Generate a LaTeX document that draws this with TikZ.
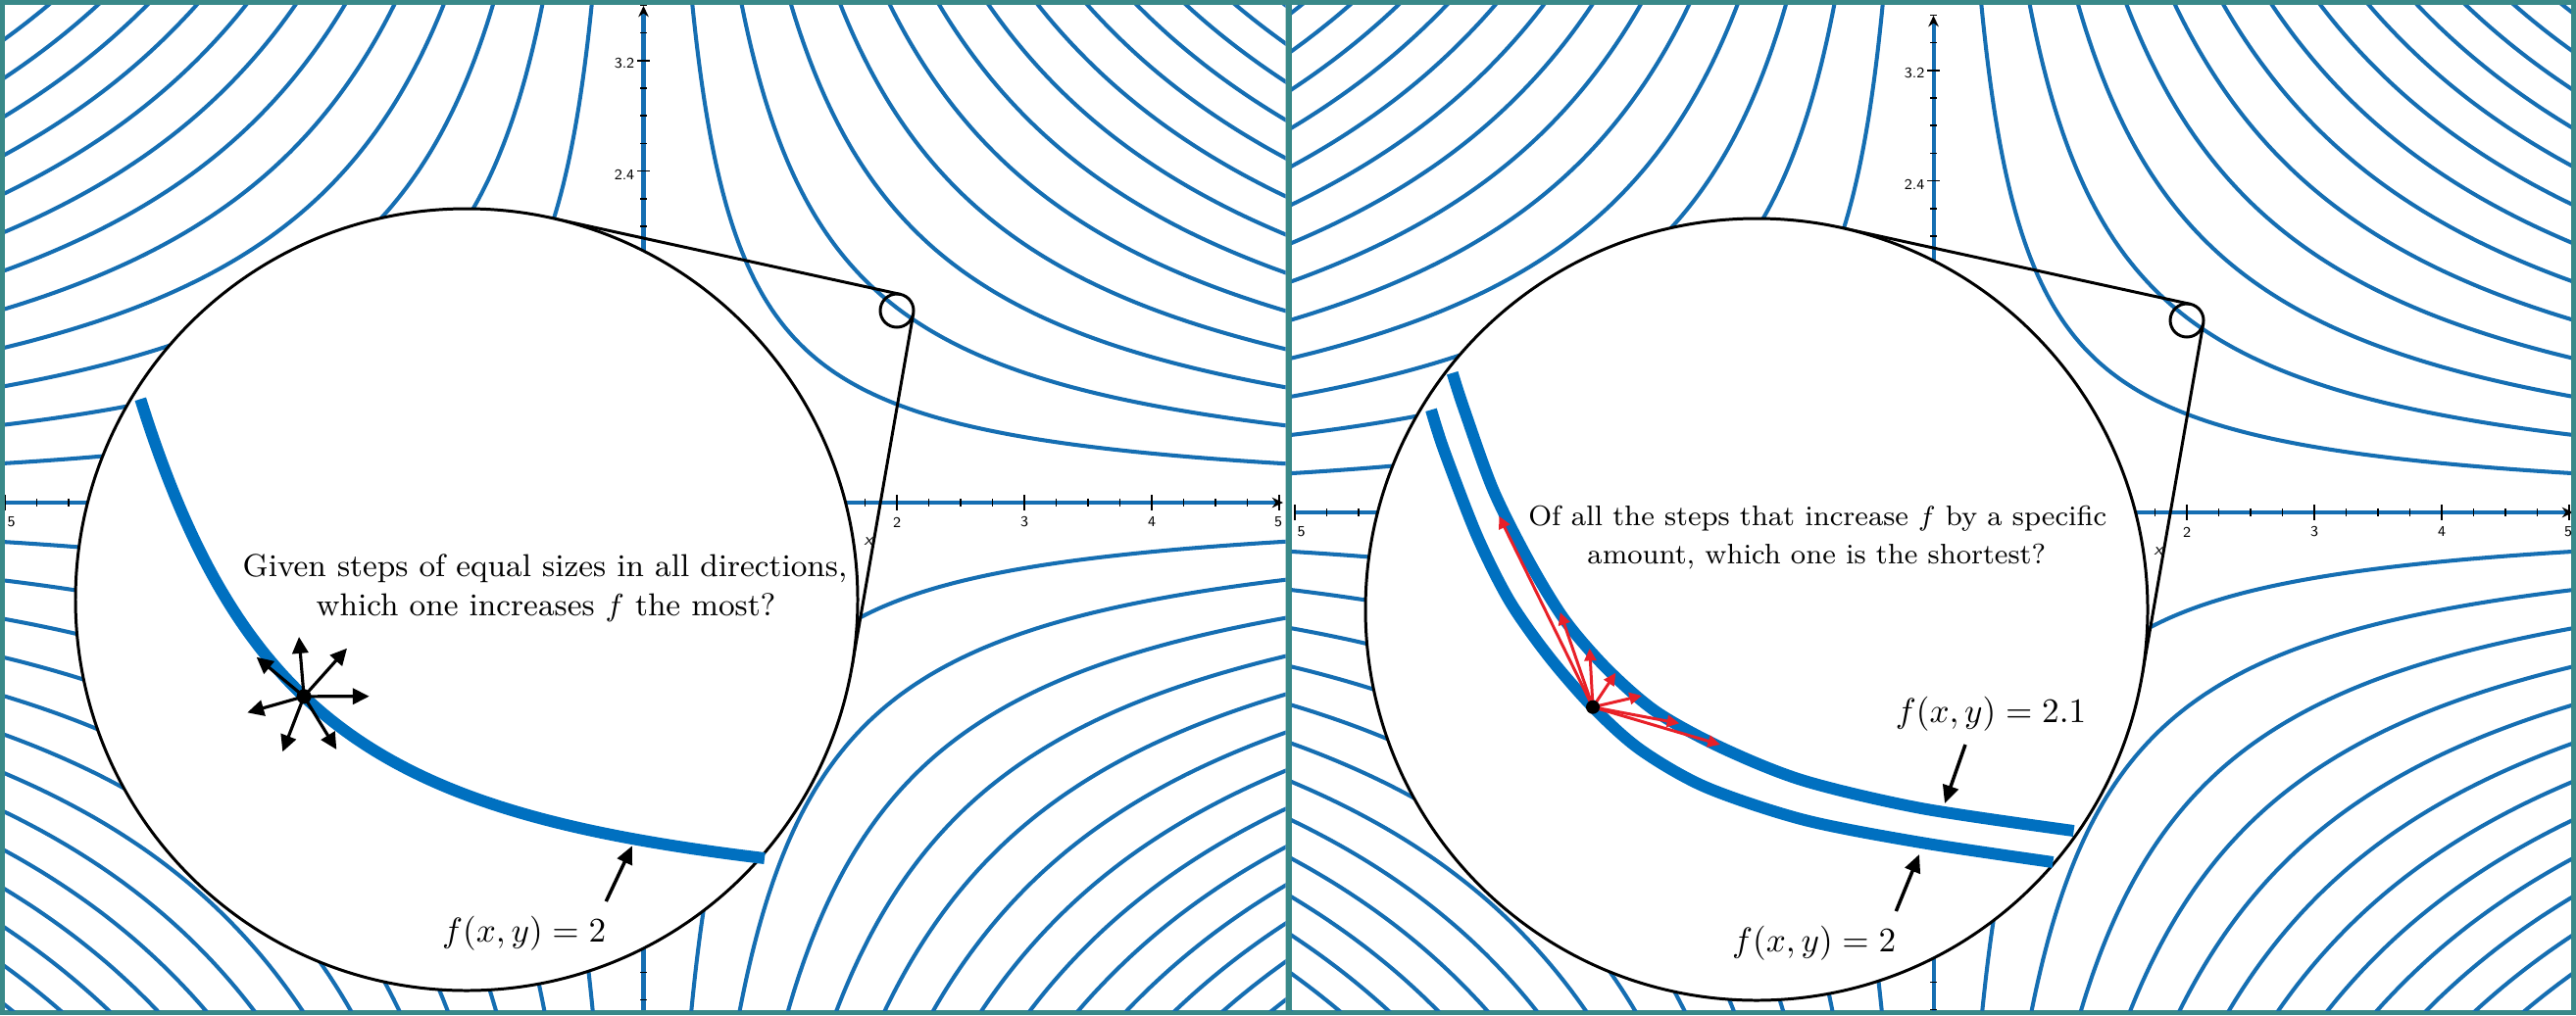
\documentclass[tikz,border=0pt]{standalone}
\usetikzlibrary{arrows.meta,calc}
\definecolor{frameteal}{RGB}{57,137,137}
\definecolor{plotblue}{RGB}{21,110,178}
\definecolor{curveblue}{RGB}{0,112,192}
\definecolor{stepred}{RGB}{232,32,40}

\tikzset{
  bgcurve/.style={plotblue, line width=1.15pt},
  axisline/.style={plotblue, line width=1.15pt},
  tickline/.style={black, line width=0.45pt},
  ticklabel/.style={font=\sffamily\fontsize{4.3}{5}\selectfont, inner sep=0pt},
  zoomline/.style={black, line width=0.85pt},
  thickcurve/.style={curveblue, line width=3.4pt},
  steparrow/.style={black, line width=0.9pt, -{Triangle[length=4.8pt,width=4.6pt]}},
  redstep/.style={stepred, line width=0.85pt, -{Triangle[length=3.6pt,width=3.4pt]}},
  labelarrow/.style={black, line width=1pt, -{Triangle[length=5.2pt,width=4.6pt]}},
  maintext/.style={inner sep=0pt, anchor=base},
  labeltext/.style={inner sep=0pt, anchor=base, font=\fontsize{10}{12}\selectfont},
}

% background contour plot, in panel-local pixel coordinates
\newcommand{\mybackground}[1]{%
  \begin{scope}[shift={(655,513)},x=1cm,y=1cm]
    \foreach \k in {1,...,13}{%
      \pgfmathsetmacro\hypc{2.556*\k+0.05}%
      \pgfmathsetmacro\hyps{sqrt(\hypc)}%
      \pgfmathsetmacro\hypT{ln(6.8/\hyps)}%
      \foreach \sx/\sy in {1/1,-1/1,-1/-1,1/-1}{%
        \draw[bgcurve] plot[domain=-\hypT:\hypT,samples=40,smooth,variable=\t]
          ({\sx*\hyps*exp(\t)},{\sy*\hyps*exp(-\t)});
      }%
    }%
  \end{scope}
  % axes
  \draw[axisline, -{Stealth[color=black,length=3.2pt,width=3pt]}] (5,513) -- (1309,513);
  \draw[axisline, -{Stealth[color=black,length=3.2pt,width=3pt]}] (656.5,1031) -- (656.5,6);
  \foreach \n in {-20,...,20}{\draw[tickline] ({655+32.5*\n},509) -- ({655+32.5*\n},517);}
  \foreach \n in {-5,...,5}{\draw[tickline] ({655+130*\n},505) -- ({655+130*\n},521);}
  \foreach \n in {-18,...,18}{\draw[tickline] (653,{513-28.2*\n}) -- (660,{513-28.2*\n});}
  \foreach \n in {-4,...,4}{\draw[tickline] (650,{513-112.8*\n}) -- (663,{513-112.8*\n});}
  \node[ticklabel] (#1-y32) at (637,65) {3.2};
  \node[ticklabel] (#1-y24) at (637,178) {2.4};
  \node[ticklabel] (#1-xm5) at (11.7,533) {5};
  \node[ticklabel] (#1-x2) at (915,533) {2};
  \node[ticklabel] (#1-x3) at (1045,533) {3};
  \node[ticklabel] (#1-x4) at (1175,533) {4};
  \node[ticklabel] (#1-x5) at (1304,533) {5};
  \node[ticklabel, font=\sffamily\itshape\fontsize{5}{6}\selectfont] (#1-xname) at (886,553) {x};
}

% magnifier: small circle, tangent lines, big white circle
\newcommand{\zoomframe}[1]{%
  \coordinate (#1-big) at (476,612);
  \coordinate (#1-small) at (915,317);
  \coordinate (#1-t1b) at ($(476,612)+(-77.66:399)$);
  \coordinate (#1-t1s) at ($(915,317)+(-77.66:17)$);
  \coordinate (#1-t2b) at ($(476,612)+(9.86:399)$);
  \coordinate (#1-t2s) at ($(915,317)+(9.86:17)$);
  \draw[zoomline] (#1-t1b) -- (#1-t1s);
  \draw[zoomline] (#1-t2b) -- (#1-t2s);
  \draw[zoomline] (#1-small) circle[radius=17];
  \filldraw[zoomline, fill=white] (#1-big) circle[radius=399];
}

\begin{document}
\begin{tikzpicture}[x=0.01cm,y=-0.01cm]
\useasboundingbox (0,0) rectangle (2628,1036);
\fill[frameteal] (0,0) rectangle (2628,1036);

% ---------------- left panel ----------------
\begin{scope}
  \clip (5,5) rectangle (1311.5,1031);
  \fill[white] (5,5) rectangle (1311.5,1031);
  \mybackground{L}
  \zoomframe{L}
  \draw[thickcurve] (143.3,407.3) .. controls (248.3,743.3) and (400,830.4) .. (780,876)
    coordinate[pos=0.413] (Ldot);
  \coordinate (Ls1) at (305,650);
  \coordinate (Ls2) at (354,661.7);
  \coordinate (Ls3) at (376.7,710.7);
  \coordinate (Ls4) at (343.3,765);
  \coordinate (Ls5) at (288.3,767.3);
  \coordinate (Ls6) at (252.3,727.3);
  \coordinate (Ls7) at (261.7,670.7);
  \foreach \i in {1,...,7}{\draw[steparrow] (Ldot) -- (Ls\i);}
  \fill[black] (Ldot) circle[radius=7.5];
  \node[maintext, font=\fontsize{9.2}{11}\selectfont] (Lq1) at (556,588.3)
    {Given steps of equal sizes in all directions,};
  \node[maintext, font=\fontsize{9.2}{11}\selectfont] (Lq2) at (557,628.3)
    {which one increases $f$ the most?};
  \node[labeltext] (Llab) at (534.7,961.7) {$f(x,y)=2$};
  \coordinate (Llabtail) at (618.3,920);
  \coordinate (Llabtip) at (645,863.3);
  \draw[labelarrow] (Llabtail) -- (Llabtip);
\end{scope}

% ---------------- right panel ----------------
\begin{scope}
  \clip (1317.5,5) rectangle (2623,1031);
  \fill[white] (1317.5,5) rectangle (2623,1031);
  \begin{scope}[shift={(1316,10)}]
    \mybackground{R}
    \zoomframe{R}
    % level curve f = 2
    \draw[thickcurve] plot[smooth] coordinates {(144,408.3) (157.3,450) (190.7,536.7)
      (224,603.3) (264,660) (309,711.7) (357.3,755) (424,793.3) (524,826.7) (644,850) (778.4,870)};
    % level curve f = 2.1
    \draw[thickcurve] plot[smooth] coordinates {(165.7,370.7) (177.3,406.7) (207.3,490)
      (244,563.3) (280.7,623.3) (324,673.3) (374,716.7) (440.7,753.3) (524,786.7) (644,815) (799.6,838)};
    \coordinate (Rdot) at (309,711.7);
    \coordinate (Rs1) at (213.3,516.7);
    \coordinate (Rs2) at (275.7,615);
    \coordinate (Rs3) at (305.7,651.7);
    \coordinate (Rs4) at (332.3,676.7);
    \coordinate (Rs5) at (359,700);
    \coordinate (Rs6) at (397.3,728.3);
    \coordinate (Rs7) at (439,750);
    \foreach \i in {1,...,7}{\draw[redstep] (Rdot) -- (Rs\i);}
    \fill[black] (Rdot) circle[radius=7];
    \node[maintext, font=\fontsize{8.2}{9.8}\selectfont] (Rq1) at (538.3,526.7)
      {Of all the steps that increase $f$ by a specific};
    \node[maintext, font=\fontsize{8.2}{9.8}\selectfont] (Rq2) at (537.2,565)
      {amount, which one is the shortest?};
    \node[labeltext] (Rlab2) at (534.7,961.7) {$f(x,y)=2$};
    \coordinate (Rlab2tail) at (618.3,920);
    \coordinate (Rlab2tip) at (642,862);
    \draw[labelarrow] (Rlab2tail) -- (Rlab2tip);
    \node[labeltext] (Rlab21) at (715,727.7) {$f(x,y)=2.1$};
    \coordinate (Rlab21tail) at (689,750);
    \coordinate (Rlab21tip) at (668,810);
    \draw[labelarrow] (Rlab21tail) -- (Rlab21tip);
  \end{scope}
\end{scope}
\end{tikzpicture}
\end{document}
